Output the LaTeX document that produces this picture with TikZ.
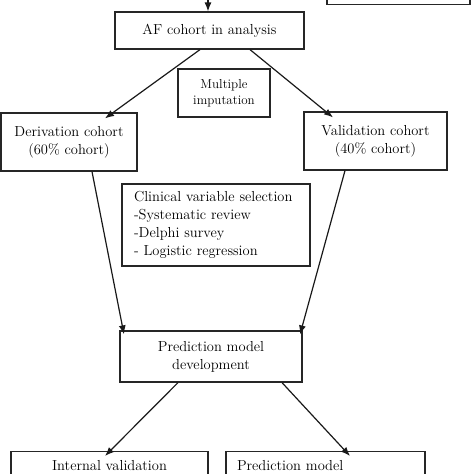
\documentclass[tikz,border=0pt]{standalone}
\usetikzlibrary{arrows.meta}

\begin{document}
\begin{tikzpicture}[x=1pt,y=-1pt,
  box/.style={rectangle,draw=black!85,line width=1.2pt,inner sep=0pt,align=center,
    font=\fontsize{14.5}{18}\selectfont},
  arr/.style={-{Latex[length=9pt,width=7pt]},line width=1.2pt,draw=black!90}]
\useasboundingbox (0,0) rectangle (474,474);
\clip (0,0) rectangle (474,474);

\coordinate (in) at (208,-10);
\path (398.5,5) node[box,anchor=south,minimum width=143,minimum height=40] (prev) {};

\path (209.5,30.5) node[box,minimum width=189,minimum height=37] (af) {AF cohort in analysis};
\draw[arr] (in) -- ([xshift=-1.5pt]af.north);

\path (224,93) node[box,minimum width=92,minimum height=48,
  font=\fontsize{13}{16}\selectfont] (mi) {Multiple\\imputation};

\path (69,142) node[box,minimum width=136,minimum height=58] (der) {Derivation cohort\\(60\% cohort)};
\draw[arr] ([xshift=-9.5pt]af.south) -- ([xshift=36pt,yshift=-6pt]der.north);

\path (375.5,141) node[box,minimum width=143,minimum height=58] (val) {Validation cohort\\(40\% cohort)};
\draw[arr] ([xshift=40.5pt]af.south) -- ([xshift=-42.5pt,yshift=-6pt]val.north);

\path (216,225) node[box,minimum width=188,minimum height=82,text width=164,align=left] (sel)
  {Clinical variable selection\\-Systematic review\\-Delphi survey\\- Logistic regression};

\path (211,356.5) node[box,minimum width=182,minimum height=51] (dev) {Prediction model\\development};
\draw[arr] ([xshift=23pt]der.south) -- ([xshift=-87pt,yshift=-4pt]dev.north);
\draw[arr] ([xshift=-30.5pt]val.south) -- ([xshift=89pt,yshift=-4pt]dev.north);

\path (109.5,451) node[box,anchor=north,minimum width=197,inner ysep=9pt,text depth=40pt] (int) {Internal validation};
\path (325.5,451) node[box,anchor=north,minimum width=199,inner ysep=9pt,text depth=40pt,
  text width=177,align=left] (ext) {Prediction model};
\draw[arr] ([xshift=-33pt]dev.south) -- ([xshift=-4.5pt,yshift=-5pt]int.north);
\draw[arr] ([xshift=71pt]dev.south) -- ([xshift=24.5pt,yshift=-5pt]ext.north);
\end{tikzpicture}
\end{document}
